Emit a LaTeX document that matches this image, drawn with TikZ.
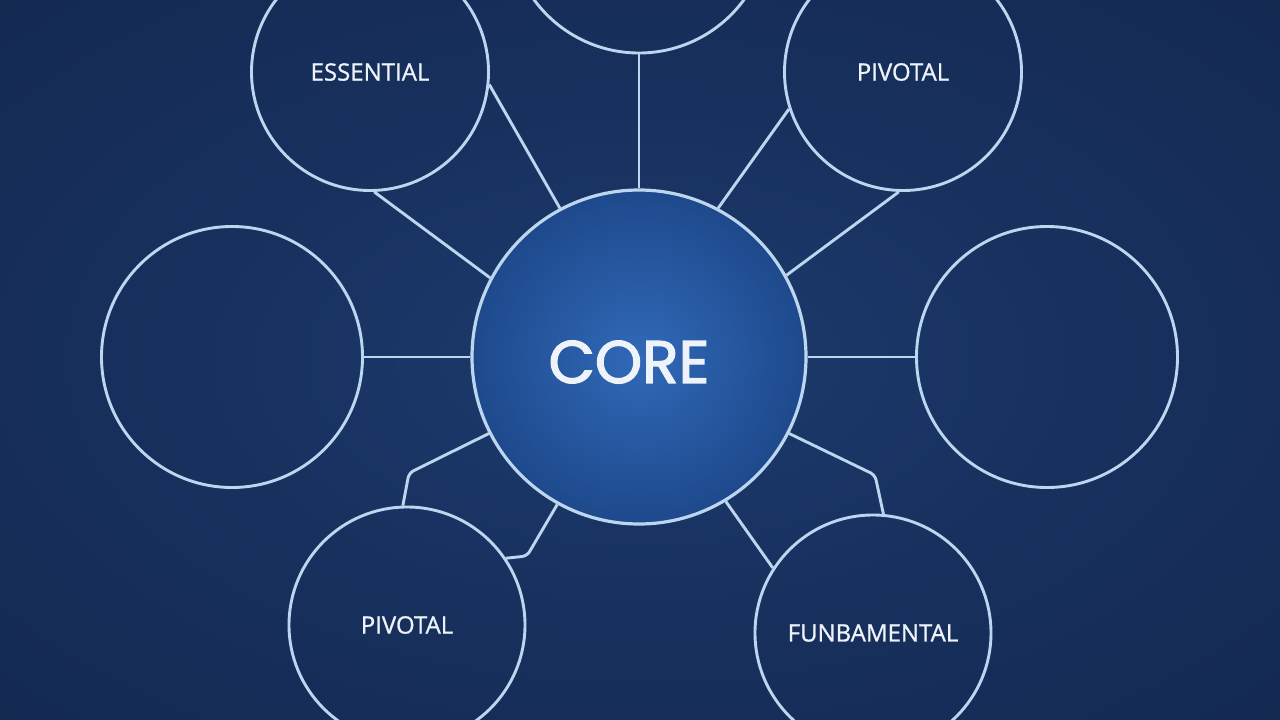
\documentclass[tikz,border=0pt]{standalone}
\usepackage{fontspec}
\setmainfont{Open Sans}
\newfontfamily\labelfont{Open Sans}[FakeBold=1]
\newfontfamily\corefont{Poppins}[FakeBold=2.2]
\definecolor{bgdark}{HTML}{11244A}
\definecolor{bgmid}{HTML}{1C3B6E}
\definecolor{hubin}{HTML}{3169B8}
\definecolor{hubout}{HTML}{1E498C}
\definecolor{rim}{HTML}{BCD6F0}
\definecolor{ink}{HTML}{EEF3FA}
\pgfdeclareradialshading{bgglow}{\pgfpoint{0bp}{0bp}}{color(0bp)=(bgmid); color(20bp)=(bgmid!50!bgdark); color(50bp)=(bgdark)}
\pgfdeclareradialshading{hubglow}{\pgfpoint{0bp}{0bp}}{color(0bp)=(hubin); color(25bp)=(hubout); color(50bp)=(hubout)}

\begin{document}
\begin{tikzpicture}[x=1pt,y=-1pt,
	ring/.style={circle,draw=rim,line width=2.9pt,inner sep=0pt},
	link/.style={draw=rim,line width=2.9pt,rounded corners=5pt},
	word/.style={text=ink,font=\labelfont\fontsize{24}{24}\selectfont}]
	\useasboundingbox (0,0) rectangle (1280,720);
	\shade[shading=bgglow] (0,0) rectangle (1280,720);
	% hub and the rings round it
	\node[ring,shading=hubglow,minimum size=334pt,line width=3.2pt] (core) at (639,357) {};
	\node[text=ink,font=\corefont\fontsize{60}{60}\selectfont] (corename) at (629,362) {CORE};
	\node[ring,minimum size=260pt] (top) at (639,-77) {};
	\node[ring,word,minimum size=237pt] (ess) at (370,72) {ESSENTIAL};
	\node[ring,word,minimum size=237pt] (pivtop) at (903,72) {PIVOTAL};
	\node[ring,minimum size=261pt] (left) at (232,357) {};
	\node[ring,minimum size=261pt] (right) at (1047,357) {};
	\node[ring,word,minimum size=236pt] (pivlow) at (407,625) {PIVOTAL};
	\node[ring,word,minimum size=236pt] (fund) at (873,633) {FUNBAMENTAL};
	\coordinate (bl1) at (409,473);
	\coordinate (bl2) at (527,556);
	\coordinate (br1) at (875,475);
	% spokes
	\draw[link] (top.south) -- (core.north);
	\draw[link] (left.east) -- (core.west);
	\draw[link] (core.east) -- (right.west);
	\draw[link] (ess.-6) -- (core.118);
	\draw[link] (ess.-88) -- (core.152);
	\draw[link] (pivtop.198) -- (core.62);
	\draw[link] (pivtop.268) -- (core.29);
	\draw[link] (core.207) -- (bl1) -- (pivlow.92);
	\draw[link] (core.241) -- (bl2) -- (pivlow.34);
	\draw[link] (core.-27) -- (br1) -- (fund.85);
	\draw[link] (core.-59) -- (fund.147);
\end{tikzpicture}
\end{document}
